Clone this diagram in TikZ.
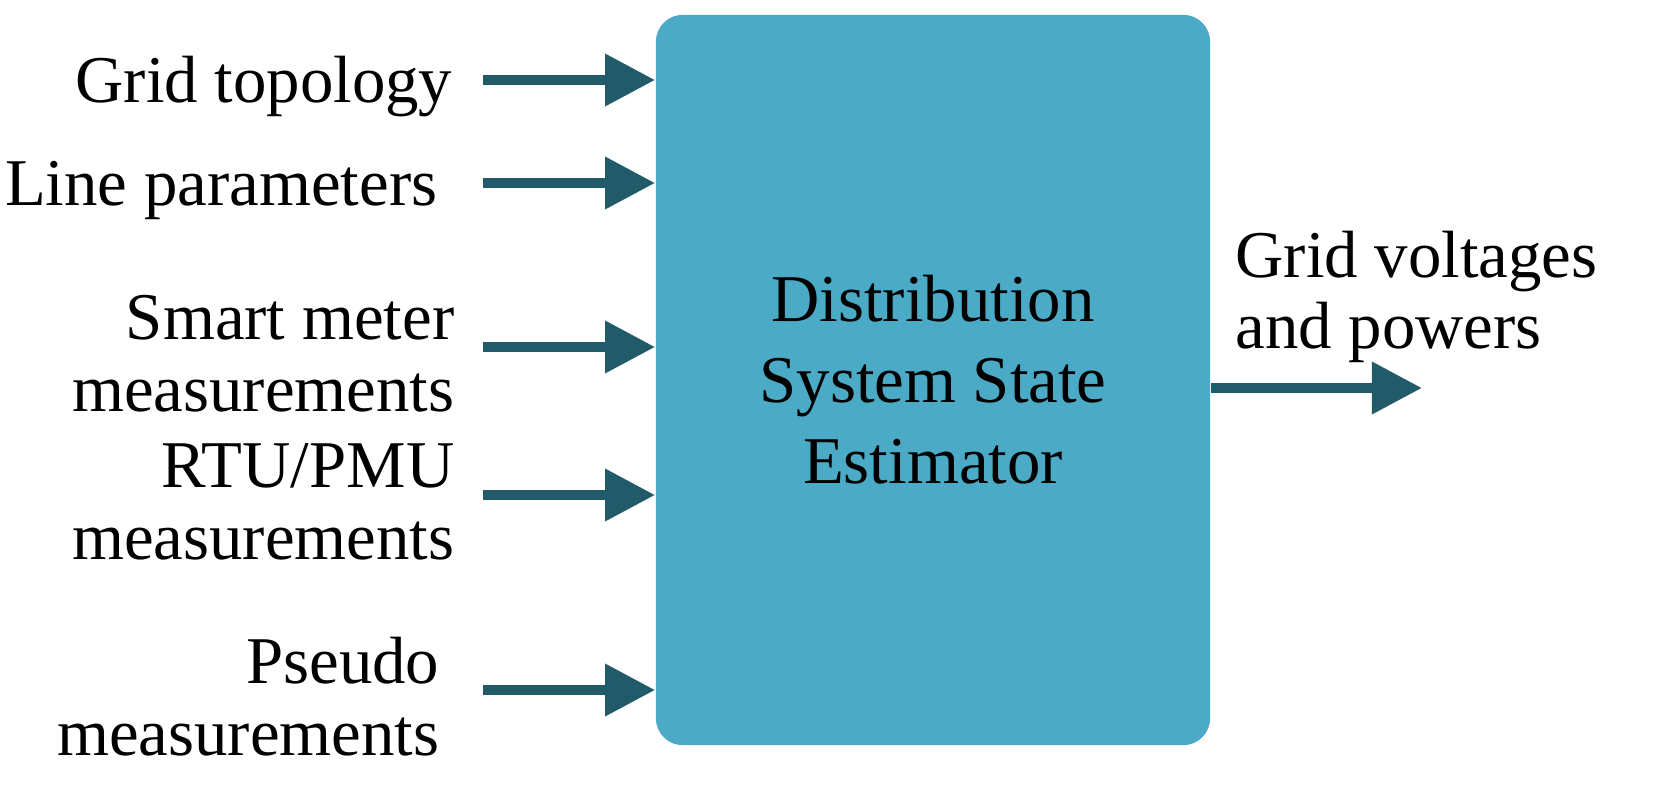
\documentclass[tikz,border=0pt]{standalone}
\usepackage{fontspec}
\setmainfont{Liberation Serif}
\usetikzlibrary{arrows.meta}
\definecolor{boxc}{HTML}{4BABC6}
\definecolor{arrc}{HTML}{215A69}
\begin{document}
\begin{tikzpicture}[x=0.01cm,y=-0.01cm,
  lbl/.style={font=\fontsize{19}{20.5}\selectfont,align=right,anchor=east,inner sep=0},
  arr/.style={draw=arrc,line width=0.1cm,-{Triangle[length=0.5cm,width=0.5cm]}}]
\useasboundingbox (0,0) rectangle (1659,803);
\node[fill=boxc,rounded corners=0.27cm,minimum width=5.54cm,minimum height=7.3cm,inner sep=0,
  font=\fontsize{19}{23}\selectfont,align=center] (box) at (933,380) {Distribution\\System State\\Estimator};
\foreach \n/\y/\r/\t in {a/80/453/{Grid topology},b/183/438/{Line parameters},c/347/455/{Smart meter\\measurements},d/495/455/{RTU/PMU\\measurements},e/690/440/{Pseudo\\measurements}}{
  \node[lbl] (l\n) at (\r,\y+7) {\t};
  \coordinate (s\n) at (483,\y);
  \draw[arr] (s\n) -- (box.west |- s\n);
}
\coordinate (o) at (1422,388);
\draw[arr] (box.east |- o) -- (o);
\node[font=\fontsize{19}{20}\selectfont,align=left,anchor=west,inner sep=0] (out) at (1235,297) {Grid voltages\\and powers};
\end{tikzpicture}
\end{document}
